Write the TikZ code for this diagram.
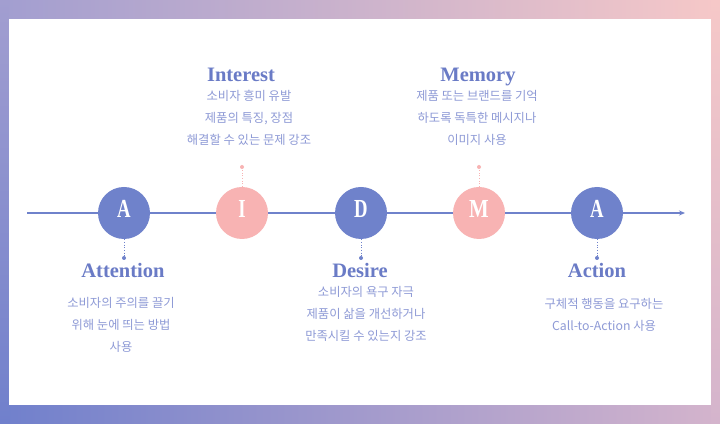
\documentclass[tikz,border=0pt]{standalone}
\usepackage{fontspec}
\usepackage{graphicx}
\usetikzlibrary{arrows.meta}
\setmainfont{Liberation Serif}
\newfontfamily\krfont{Noto Sans CJK KR}
\newfontfamily\ttlfont{Liberation Serif}
\definecolor{blueC}{HTML}{6F82CB}
\definecolor{pinkC}{HTML}{F8B3B3}
\definecolor{titleC}{HTML}{6A7BC6}
\definecolor{krC}{HTML}{8E9AD6}
\definecolor{bgTL}{RGB}{162,158,208}
\definecolor{bgTM}{RGB}{202,177,206}
\definecolor{bgTR}{RGB}{246,200,200}
\definecolor{bgBL}{RGB}{112,128,204}
\definecolor{bgBM}{RGB}{152,152,208}
\definecolor{bgBR}{RGB}{212,180,204}
\begin{document}
\begin{tikzpicture}[x=1pt,y=1pt,
  stage/.style={circle,minimum size=52pt,inner sep=0pt},
  letter/.style={anchor=base,text=white,inner sep=0pt,font=\ttlfont\bfseries\fontsize{26}{26}\selectfont},
  ttl/.style={anchor=base,text=titleC,inner sep=0pt,font=\ttlfont\bfseries\fontsize{20.5}{21}\selectfont},
  desc/.style={anchor=base,text=krC,inner sep=0pt,align=center,font=\krfont\fontsize{12.3}{22}\selectfont},
  mainline/.style={draw=blueC,line width=1.8pt},
  dotline/.style={line width=0.7pt,dotted},
  dotnode/.style={circle,inner sep=0pt,minimum size=4pt}
]
\useasboundingbox (0,0) rectangle (720,423);
% gradient frame
\shade[left color=bgTL,middle color=bgTM,right color=bgTR] (0,404) rectangle (720,423);
\shade[left color=bgBL,middle color=bgBM,right color=bgBR] (0,0) rectangle (720,19);
\shade[top color=bgTL,bottom color=bgBL] (0,0) rectangle (9,423);
\shade[top color=bgTR,bottom color=bgBR] (711,0) rectangle (720,423);
\fill[white] (9,18) rectangle (711,404);
% timeline
\coordinate (start) at (27,210);
\coordinate (end) at (685,210);
\node[stage,fill=blueC] (c1) at (124,210) {};
\node[stage,fill=pinkC] (c2) at (242,210) {};
\node[stage,fill=blueC] (c3) at (361,210) {};
\node[stage,fill=pinkC] (c4) at (479,210) {};
\node[stage,fill=blueC] (c5) at (597,210) {};
\draw[mainline] (start) -- (c1);
\draw[mainline] (c1) -- (c2);
\draw[mainline] (c2) -- (c3);
\draw[mainline] (c3) -- (c4);
\draw[mainline] (c4) -- (c5);
\draw[mainline,-{Stealth[length=6pt,width=5pt]}] (c5) -- (end);
% letters
\node[letter] (l1) at (124,205) {\scalebox{0.72}[1]{A}};
\node[letter] (l2) at (242,205) {\scalebox{0.72}[1]{I}};
\node[letter] (l3) at (361,205) {\scalebox{0.72}[1]{D}};
\node[letter] (l4) at (479,205) {\scalebox{0.8}[1]{M}};
\node[letter] (l5) at (597,205) {\scalebox{0.72}[1]{A}};
% dotted ticks
\node[dotnode,fill=blueC] (d1) at (124,165) {};
\node[dotnode,fill=pinkC] (d2) at (242,256) {};
\node[dotnode,fill=blueC] (d3) at (361,165) {};
\node[dotnode,fill=pinkC] (d4) at (479,256) {};
\node[dotnode,fill=blueC] (d5) at (597,165) {};
\draw[dotline,blueC] (c1) -- (d1);
\draw[dotline,pinkC] (c2) -- (d2);
\draw[dotline,blueC] (c3) -- (d3);
\draw[dotline,pinkC] (c4) -- (d4);
\draw[dotline,blueC] (c5) -- (d5);
% titles
\node[ttl] (t1) at (123,145) {Attention};
\node[ttl] (t2) at (241,341) {Interest};
\node[ttl] (t3) at (360,145) {Desire};
\node[ttl] (t4) at (478,341) {Memory};
\node[ttl] (t5) at (597,145) {Action};
% descriptions (base = baseline of last line)
\node[desc] (k1) at (121,71) {소비자의 주의를 끌기\\위해 눈에 띄는 방법\\사용};
\node[desc] (k2) at (249,278) {소비자 흥미 유발\\제품의 특징, 장점\\해결할 수 있는 문제 강조};
\node[desc] (k3) at (366,82) {소비자의 욕구 자극\\제품이 삶을 개선하거나\\만족시킬 수 있는지 강조};
\node[desc] (k4) at (477,278) {제품 또는 브랜드를 기억\\하도록 독특한 메시지나\\이미지 사용};
\node[desc] (k5) at (604,92) {구체적 행동을 요구하는\\Call-to-Action 사용};
\end{tikzpicture}
\end{document}
